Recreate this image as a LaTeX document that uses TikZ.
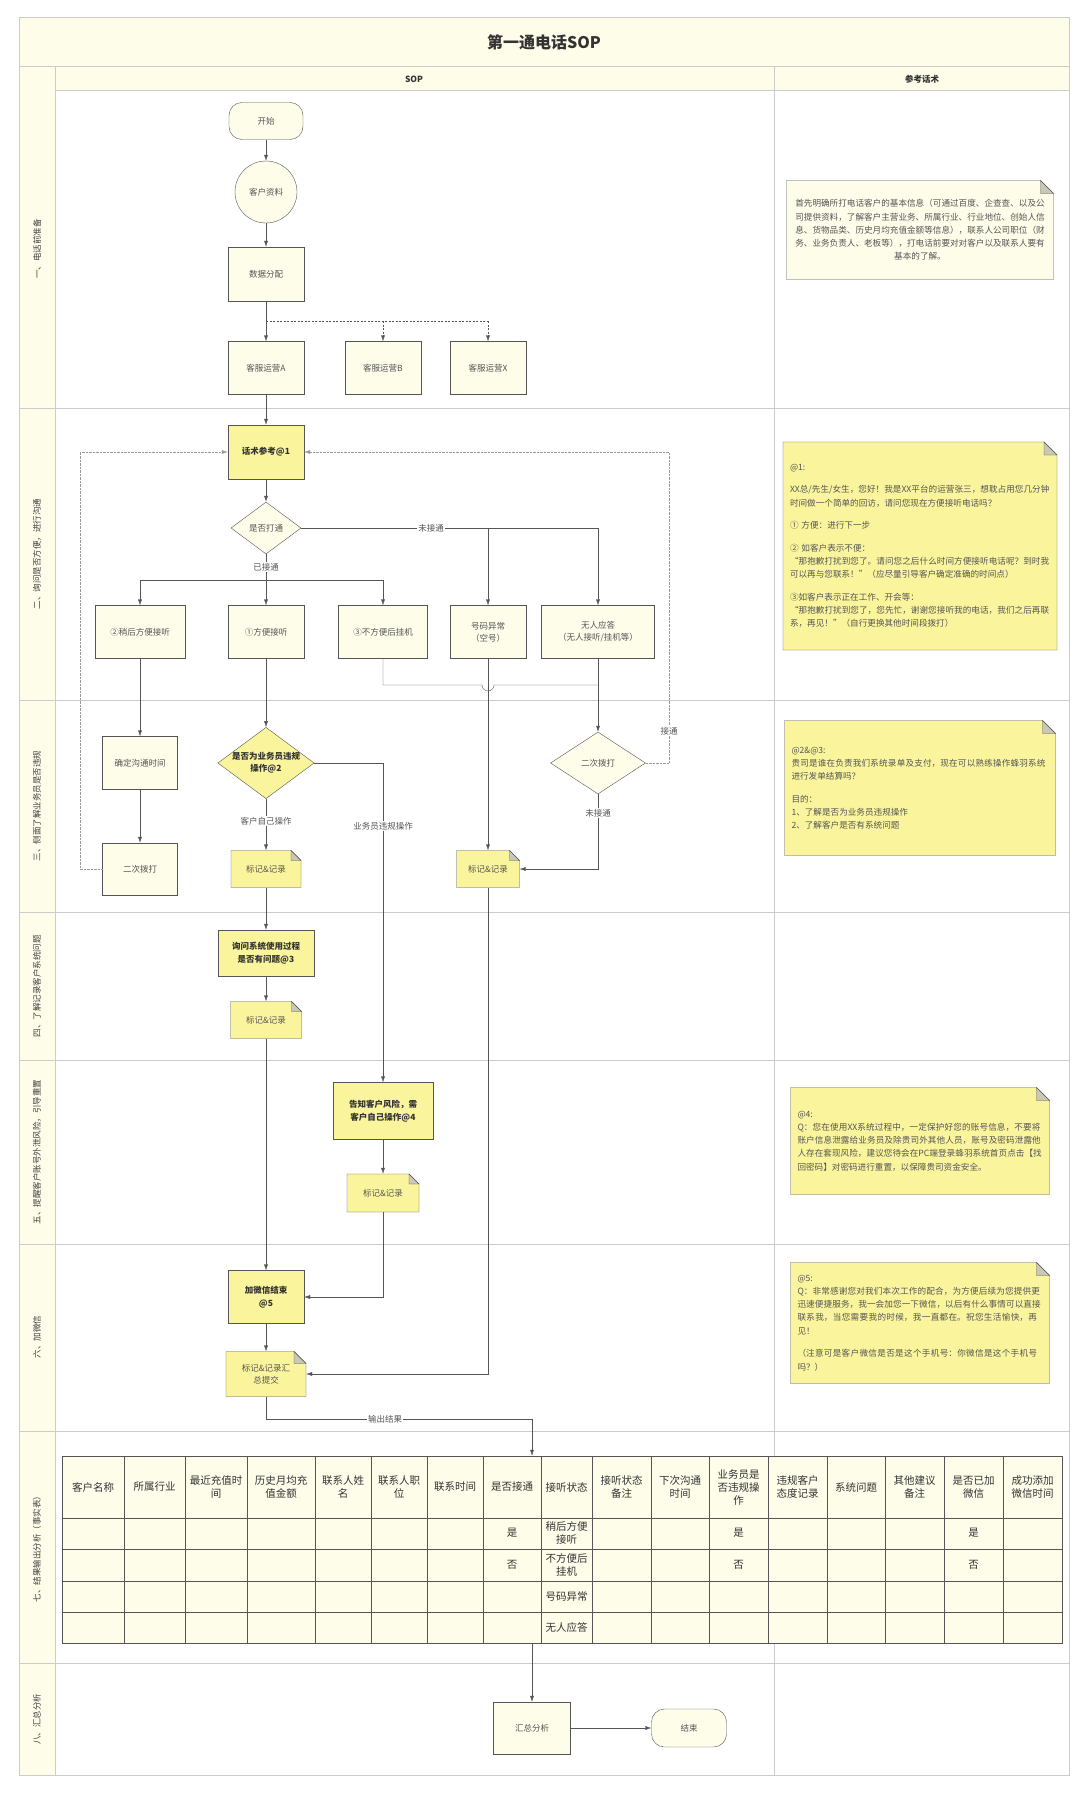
\documentclass[tikz,border=0pt]{standalone}
\usepackage{fontspec}
\setmainfont{Noto Sans CJK SC}
\XeTeXlinebreaklocale "zh"
\XeTeXlinebreakskip = 0pt plus 1pt
\usetikzlibrary{arrows.meta,shapes.geometric}
\definecolor{cream}{HTML}{FDFDEA}
\definecolor{yel}{HTML}{FAF59C}
\definecolor{lc}{HTML}{555555}
\definecolor{grid}{HTML}{CCCCCC}
\definecolor{fold}{HTML}{C8C8B4}
\newcommand\docnode[8]{%
 \path[draw=lc,fill=#7] ({#2-#4/2},{#3+#5/2}) -- ({#2-#4/2},{#3-#5/2}) -- ({#2+#4/2-#6},{#3-#5/2}) -- ({#2+#4/2},{#3-#5/2+#6}) -- ({#2+#4/2},{#3+#5/2}) -- cycle;
 \path[draw=lc,fill=fold] ({#2+#4/2-#6},{#3-#5/2}) -- ({#2+#4/2-#6},{#3-#5/2+#6}) -- ({#2+#4/2},{#3-#5/2+#6}) -- cycle;
 \node[minimum width=#4pt,minimum height=#5pt,inner sep=0pt,align=center,font=\fontsize{8.5}{12}\selectfont,text=lc] (#1) at (#2,#3) {#8};}
\newcommand\notenode[7]{%
 \path[draw=lc,fill=#6] ({#2-#4/2},{#3+#5/2}) -- ({#2-#4/2},{#3-#5/2}) -- ({#2+#4/2-13},{#3-#5/2}) -- ({#2+#4/2},{#3-#5/2+13}) -- ({#2+#4/2},{#3+#5/2}) -- cycle;
 \path[draw=lc,fill=fold] ({#2+#4/2-13},{#3-#5/2}) -- ({#2+#4/2-13},{#3-#5/2+13}) -- ({#2+#4/2},{#3-#5/2+13}) -- cycle;
 \node[minimum width=#4pt,minimum height=#5pt,inner sep=0pt,text width=\dimexpr#4pt-14pt\relax,font=\fontsize{8.6}{13.2}\selectfont,text=lc] (#1) at (#2,#3) {#7};}
\begin{document}
\begin{tikzpicture}[x=1pt,y=-1pt,
 box/.style={draw=lc,fill=cream,minimum width=76pt,minimum height=54pt,inner sep=1pt,align=center,font=\fontsize{8.5}{12}\selectfont,text=lc},
 ybox/.style={box,fill=yel,font=\fontsize{8.5}{13}\bfseries\selectfont,text=black!80},
 dia/.style={draw=lc,fill=cream,diamond,aspect=1.35,inner sep=0pt,align=center,font=\fontsize{8.5}{12}\selectfont,text=lc},
 term/.style={box,rounded corners=13pt,minimum width=74pt,minimum height=37pt},
 arr/.style={draw=lc,-{Latex[length=6pt,width=4pt]}},
 ln/.style={draw=lc},
 dsh/.style={draw=lc,dash pattern=on 2pt off 1.5pt},
 dot/.style={draw=lc!60,densely dotted},
 lbl/.style={fill=white,inner sep=1pt,font=\fontsize{8.5}{10}\selectfont,text=lc},
 lane/.style={rotate=90,font=\fontsize{8.5}{10}\selectfont,text=black!75},
 th/.style={align=center,font=\fontsize{10.5}{13}\selectfont,text=black!80,inner sep=0pt}]
\useasboundingbox (0,0) rectangle (1080,1793);
\fill[white] (0,0) rectangle (1080,1793);
% frame
\fill[cream] (19,18) rectangle (1069,90);
\fill[cream] (19,90) rectangle (55,1775);
\draw[grid,line width=1pt] (19,18) rectangle (1069,1775);
\draw[grid,line width=1pt] (19,67) -- (1069,67) (55,90) -- (1069,90) (55,67) -- (55,1775);
\draw[grid,line width=0.6pt] (774,67) -- (774,1775);
\foreach \yy in {408,700,912,1060,1244,1431,1663} \draw[grid,line width=1pt] (19,\yy) -- (1069,\yy);
\node[font=\fontsize{16}{18}\bfseries\selectfont,text=black!80] (title) at (544,42) {第一通电话SOP};
\node[font=\fontsize{8.5}{10}\bfseries\selectfont,text=black!80] (hsop) at (414,79) {SOP};
\node[font=\fontsize{8.5}{10}\bfseries\selectfont,text=black!80] (href) at (922,79) {参考话术};
\node[lane] (l1) at (37,249) {一、电话前准备};
\node[lane] (l2) at (37,554) {二、询问是否方便，进行沟通};
\node[lane] (l3) at (37,806) {三、侧面了解业务员是否违规};
\node[lane] (l4) at (37,986) {四、了解记录客户系统问题};
\node[lane] (l5) at (37,1152) {五、提醒客户账号外泄风险，引导重置};
\node[lane] (l6) at (37,1337) {六、加微信};
\node[lane] (l7) at (37,1547) {七、结果输出分析（事实表）};
\node[lane] (l8) at (37,1719) {八、汇总分析};
% lane 1
\node[term] (start) at (266,121) {开始};
\node[box,circle,minimum width=62pt,minimum height=62pt] (info) at (266,192) {客户资料};
\node[box] (alloc) at (266,274) {数据分配};
\node[box,minimum height=53pt] (opa) at (266,368) {客服运营A};
\node[box,minimum height=53pt] (opb) at (383,368) {客服运营B};
\node[box,minimum height=53pt] (opx) at (488,368) {客服运营X};
\coordinate (sp) at (266,321);
\draw[arr] (start) -- (info);
\draw[arr] (info) -- (alloc);
\draw[arr] (alloc) -- (opa);
\draw[dsh] (sp) -- (opx.north |- sp);
\draw[dsh,-{Latex[length=6pt,width=4pt]}] (opb.north |- sp) -- (opb.north);
\draw[dsh,-{Latex[length=6pt,width=4pt]}] (opx.north |- sp) -- (opx.north);
\notenode{n0}{920}{230}{267}{99}{cream}{\centering 首先明确所打电话客户的基本信息（可通过百度、企查查、以及公司提供资料，了解客户主营业务、所属行业、行业地位、创始人信息、货物品类、历史月均充值金额等信息），联系人公司职位（财务、业务负责人、老板等），打电话前要对对客户以及联系人要有基本的了解。\par}
% lane 2
\node[ybox] (ref1) at (266,452) {话术参考@1};
\draw[arr] (opa) -- (ref1);
\node[dia,minimum width=70pt,minimum height=52pt] (conn) at (266,528) {是否打通};
\draw[arr] (ref1) -- (conn);
\node[box,minimum width=90pt,minimum height=53pt] (later) at (140,632) {②稍后方便接听};
\node[box,minimum height=53pt] (conv) at (266,632) {①方便接听};
\node[box,minimum width=89pt,minimum height=53pt] (hang) at (383,632) {③不方便后挂机};
\node[box,minimum height=53pt] (abn) at (488,632) {号码异常\\（空号）};
\node[box,minimum width=113pt,minimum height=53pt] (noans) at (598,632) {无人应答\\（无人接听/挂机等）};
\coordinate (jt) at (266,580);
\draw[ln] (conn) -- (jt);
\draw[ln] (later.north |- jt) -- (hang.north |- jt);
\draw[arr] (later.north |- jt) -- (later);
\draw[arr] (jt) -- (conv);
\draw[arr] (hang.north |- jt) -- (hang);
\node[lbl] (lyj) at (266,567) {已接通};
\draw[ln] (conn.east) -- (noans.north |- conn.east);
\draw[arr] (noans.north |- conn.east) -- (noans);
\draw[arr] (abn.north |- conn.east) -- (abn);
\node[lbl] (lwj) at (431,528) {未接通};
\notenode{n1}{920}{546}{274}{208}{yel}{@1:\\[1.1em]XX总/先生/女生，您好！我是XX平台的运营张三，想耽占用您几分钟时间做一个简单的回访，请问您现在方便接听电话吗？\\[1.1em]① 方便：进行下一步\\[1.1em]② 如客户表示不便：\\“那抱歉打扰到您了。请问您之后什么时间方便接听电话呢？到时我可以再与您联系！”（应尽量引导客户确定准确的时间点）\\[1.1em]③如客户表示正在工作、开会等：\\“那抱歉打扰到您了，您先忙，谢谢您接听我的电话，我们之后再联系，再见！”（自行更换其他时间段拨打）}
% lane 3
\node[box,minimum width=75pt,minimum height=53pt] (fix) at (140,763) {确定沟通时间};
\node[box,minimum width=75pt,minimum height=52pt] (redial) at (140,869) {二次拨打};
\node[dia,fill=yel,minimum width=94pt,minimum height=68pt,font=\fontsize{8.5}{12}\bfseries\selectfont,text=black!80] (viol) at (266,763) {是否为业务员违规\\操作@2};
\node[dia,minimum width=95pt,minimum height=62pt] (redial2) at (598,763) {二次拨打};
\docnode{m1}{266}{869}{70}{37}{10}{yel}{标记\&记录}
\docnode{m2}{488}{869}{63}{37}{10}{yel}{标记\&记录}
\draw[arr] (later) -- (fix);
\draw[arr] (fix) -- (redial);
\draw[arr] (conv) -- (viol);
\draw[arr] (viol) -- (m1);
\node[lbl] (lkh) at (266,821) {客户自己操作};
\coordinate (hp) at (383,685);
\draw[ln] (hang.south) -- (hp) -- (482,685) arc[start angle=180,end angle=0,radius=6] -- (598,685);
\draw[arr] (noans) -- (redial2);
\draw[arr] (abn) -- (m2);
\draw[arr] (redial2.south) -- (598,869) -- (m2.east);
\node[lbl] (lwj2) at (598,813) {未接通};
\draw[dot,-{Latex[length=6pt,width=4pt]}] (redial.west) -- (80,869) -- (80,452) -- (ref1.west);
\draw[dot,-{Latex[length=6pt,width=4pt]}] (redial2.east) -- (669,763) -- (669,452) -- (ref1.east);
\node[lbl] (ljt) at (669,731) {接通};
\notenode{n2}{920}{788}{271}{135}{yel}{@2\&@3:\\贵司是谁在负责我们系统录单及支付，现在可以熟练操作蜂羽系统进行发单结算吗？\\[1.1em]目的：\\1、了解是否为业务员违规操作\\2、了解客户是否有系统问题}
% lane 4
\node[ybox,minimum width=96pt,minimum height=46pt] (ask) at (266,953) {询问系统使用过程\\是否有问题@3};
\draw[arr] (m1) -- (ask);
\docnode{m3}{266}{1020}{71}{37}{10}{yel}{标记\&记录}
\draw[arr] (ask) -- (m3);
% lane 5
\node[ybox,minimum width=100pt,minimum height=57pt] (risk) at (383,1111) {告知客户风险，需\\客户自己操作@4};
\draw[arr] (viol.east) -- (383,763) -- (risk.north);
\node[lbl] (lyw) at (383,826) {业务员违规操作};
\docnode{m4}{383}{1193}{72}{38}{10}{yel}{标记\&记录}
\draw[arr] (risk) -- (m4);
\notenode{n4}{920}{1141}{259}{107}{yel}{@4:\\Q：您在使用XX系统过程中，一定保护好您的账号信息，不要将账户信息泄露给业务员及除贵司外其他人员，账号及密码泄露他人存在套现风险，建议您待会在PC端登录蜂羽系统首页点击【找回密码】对密码进行重置，以保障贵司资金安全。\\[1em]}
% lane 6
\node[ybox,minimum height=53pt] (wx) at (266,1297) {加微信结束\\@5};
\draw[arr] (m3) -- (wx);
\draw[arr] (m4.south) -- (383,1297) -- (wx.east);
\docnode{m5}{266}{1374}{80}{45}{12}{yel}{标记\&记录汇\\总提交}
\draw[arr] (wx) -- (m5);
\draw[arr] (m2.south) -- (488,1374) -- (m5.east);
\notenode{n5}{920}{1323}{259}{121}{yel}{@5:\\Q：非常感谢您对我们本次工作的配合，为方便后续为您提供更迅速便捷服务，我一会加您一下微信，以后有什么事情可以直接联系我，当您需要我的时候，我一直都在。祝您生活愉快，再见！\\[1.1em]（注意可是客户微信是否是这个手机号：你微信是这个手机号吗？）}
% lane 7 table
\node[draw=lc,fill=cream,minimum width=1000pt,minimum height=187pt,inner sep=0pt] (tbl) at (562,1549.5) {};
\node[box,minimum width=77pt,minimum height=52pt] (sum) at (532,1728) {汇总分析};
\draw[arr] (m5.south) -- (266,1419) -- (532,1419) -- (tbl.north -| sum.north);
\node[lbl] (lout) at (385,1419) {输出结果};
\foreach \yy in {1518,1549,1581,1612} \draw[lc,line width=0.8pt] (62,\yy) -- (1062,\yy);
\foreach \xx in {124,185,247,315,371,427,483,541,592,651,709,768,827,885,944,1003} \draw[lc] (\xx,1456) -- (\xx,1643);
\foreach \cx/\t [count=\i] in {93/客户名称,154.5/所属行业,216/最近充值时\\间,281/历史月均充\\值金额,343/联系人姓\\名,399/联系人职\\位,455/联系时间,512/是否接通,566.5/接听状态,621.5/接听状态\\备注,680/下次沟通\\时间,738.5/业务员是\\否违规操\\作,797.5/违规客户\\态度记录,856/系统问题,914.5/其他建议\\备注,973.5/是否已加\\微信,1032.5/成功添加\\微信时间}
  \node[th] (h\i) at (\cx,1487) {\t};
\node[th] (c1) at (512,1533) {是};
\node[th] (c2) at (512,1565) {否};
\node[th] (c3) at (566.5,1533) {稍后方便\\接听};
\node[th] (c4) at (566.5,1565) {不方便后\\挂机};
\node[th] (c5) at (566.5,1596.5) {号码异常};
\node[th] (c6) at (566.5,1627.5) {无人应答};
\node[th] (c7) at (738.5,1533) {是};
\node[th] (c8) at (738.5,1565) {否};
\node[th] (c9) at (973.5,1533) {是};
\node[th] (c10) at (973.5,1565) {否};
% lane 8
\node[term,minimum width=75pt,minimum height=38pt] (end) at (689,1728) {结束};
\draw[arr] (tbl.south -| sum.north) -- (sum);
\draw[arr] (sum) -- (end);
\end{tikzpicture}
\end{document}
